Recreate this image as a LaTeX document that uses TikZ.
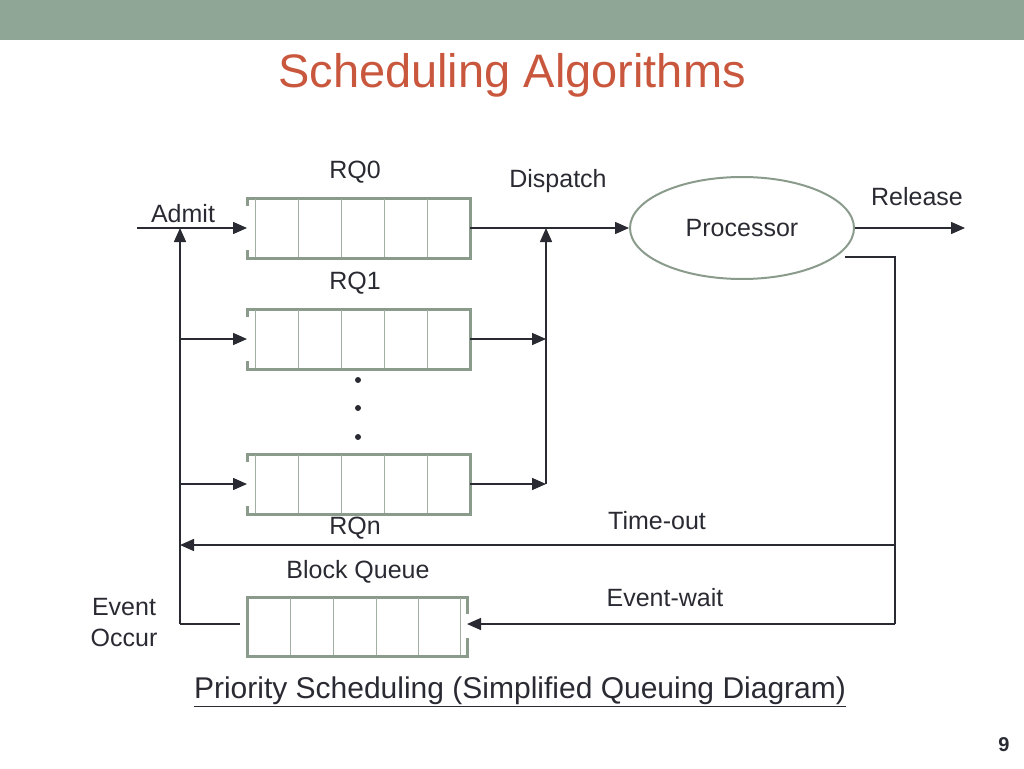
\documentclass[tikz,border=0pt]{standalone}
\usepackage{fontspec}
\setmainfont{Liberation Sans}
\usetikzlibrary{arrows.meta,shapes.geometric}
\definecolor{bar}{HTML}{8FA596}
\definecolor{qbd}{HTML}{8A9B8C}
\definecolor{ttl}{HTML}{C9573D}
\definecolor{ink}{HTML}{2A2A33}
\tikzset{
 lbl/.style={font=\fontsize{25}{27}\selectfont,text=ink,inner sep=0},
 ar/.style={draw=ink,line width=1.5pt,-{Triangle[length=14pt,width=12pt]}},
 ln/.style={draw=ink,line width=1.5pt},
 qb/.style={draw=qbd,line width=3pt},
 cell/.style={draw=qbd!80,line width=1pt}
}
\newcommand{\rqueue}[2]{% name, center y
 \coordinate (#1L) at (247,#2); \coordinate (#1R) at (470,#2);
 \draw[qb] (247,#2-22) -- (247,#2-30) -- (470,#2-30) -- (470,#2+30) -- (247,#2+30) -- (247,#2+22);
 \foreach \x in {255,298,341,384,427} \draw[cell] (\x,#2-29) -- (\x,#2+29);
}
\begin{document}
\begin{tikzpicture}[x=1pt,y=-1pt]
\useasboundingbox (0,0) rectangle (1024,768);
\fill[bar] (0,0) rectangle (1024,40);
\node[font=\fontsize{47}{50}\selectfont,text=ttl] (title) at (512,75) {Scheduling Algorithms};
\rqueue{q0}{228}
\rqueue{q1}{339}
\rqueue{qn}{484}
% block queue
\coordinate (bL) at (240,624); \coordinate (bR) at (467,624);
\draw[qb] (467,614) -- (467,597) -- (247,597) -- (247,656) -- (467,656) -- (467,638);
\foreach \x in {290,333,376,418,460} \draw[cell] (\x,598) -- (\x,655);
\node[draw=qbd,line width=2pt,ellipse,minimum width=224pt,minimum height=102pt,lbl] (proc) at (742,228) {Processor};
\coordinate (admitS) at (137,228);
\coordinate (jl) at (180,228);
\coordinate (jr) at (546,228);
\coordinate (rel) at (965,228);
\coordinate (c1) at (845,257); \coordinate (c2) at (895,257);
\coordinate (c3) at (895,545); \coordinate (c4) at (895,624);
\coordinate (t1) at (180,545);
\coordinate (b1) at (180,624);
\draw[ar] (admitS) -- (q0L);
\draw[ar] (b1) -- (jl);
\draw[ar] (180,339) -- (q1L);
\draw[ar] (180,484) -- (qnL);
\draw[ar] (q0R) -- (proc.west);
\draw[ar] (546,484) -- (jr);
\draw[ar] (q1R) -- (546,339);
\draw[ar] (qnR) -- (546,484);
\draw[ar] (proc.east) -- (rel);
\draw[ln] (c1) -- (c2) -- (c4);
\draw[ar] (c3) -- (t1);
\draw[ar] (c4) -- (bR);
\draw[ln] (bL) -- (b1);
\node[lbl] (l0) at (355,172) {RQ0};
\node[lbl] (l1) at (355,283) {RQ1};
\node[lbl] (ln) at (355,528) {RQn};
\node[lbl] (disp) at (558,181) {Dispatch};
\node[lbl] (relt) at (917,197) {Release};
\node[lbl] (adm) at (183,214) {Admit};
\node[lbl] (to) at (657,521) {Time-out};
\node[lbl] (ew) at (665,598) {Event-wait};
\node[lbl] (bq) at (358,572) {Block Queue};
\node[lbl,align=center] (eo) at (124,623) {Event\\[4pt]Occur};
\foreach \y in {380,408,437} \fill[ink] (358,\y) circle (3);
\node[lbl,font=\fontsize{30}{32}\selectfont] (cap) at (520,692) {\underline{Priority Scheduling (Simplified Queuing Diagram)}};
\node[font=\bfseries\fontsize{20}{22}\selectfont,text=ink] (pg) at (1004,745) {9};
\end{tikzpicture}
\end{document}
